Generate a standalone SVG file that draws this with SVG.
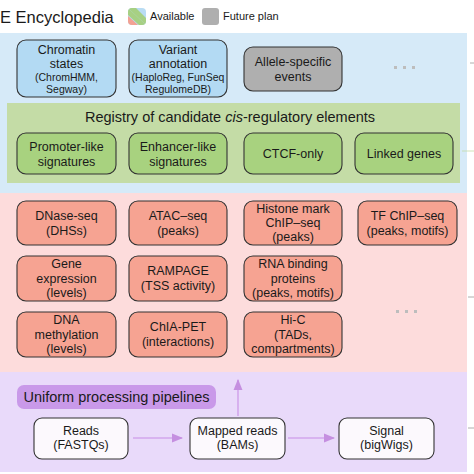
<svg xmlns="http://www.w3.org/2000/svg" width="474" height="474" viewBox="0 0 474 474">
<defs>
<style>
text{font-family:"Liberation Sans",Arial,sans-serif;fill:#1a1a1a;text-anchor:middle}
.n{stroke:#333;stroke-width:1.1}
.b{fill:#b3daf3}.g{fill:#a8d27f}.r{fill:#f6a392}.w{fill:#fcf9fd}.gr{fill:#afafaf}
.t{font-size:12.5px}.s{font-size:10.5px}
.dot{fill:#bdbdbd}
.tick{stroke:#999;stroke-width:0.8}
</style>
<marker id="ah" viewBox="0 0 10 10" refX="9" refY="5" markerWidth="7" markerHeight="7" orient="auto"><path d="M0,1 L10,5 L0,9 z" fill="#c58fe0"/></marker>
<clipPath id="ic"><rect x="128" y="8" width="18" height="17" rx="4"/></clipPath>
</defs>
<rect width="474" height="474" fill="#fff"/>
<!-- header -->
<text x="0" y="23" style="font-size:16.5px;text-anchor:start">E Encyclopedia</text>
<g id="legend">
<g clip-path="url(#ic)">
<rect x="128" y="8" width="18" height="17" fill="#b9dcf3"/>
<path d="M128,8 L136,8 L146,18 L146,25 Z" fill="#a7d083"/>
<path d="M128,8 L146,25 L139,25 L128,15 Z" fill="#a7d083"/>
<path d="M128,16 L138,25 L128,25 Z" fill="#f3a193"/>
</g>
<text x="150" y="20" style="text-anchor:start;font-size:11px">Available</text>
<rect x="202" y="8" width="17" height="17" rx="3" fill="#afafaf"/>
<text x="223" y="20" style="text-anchor:start;font-size:11px">Future plan</text>
</g>
<!-- panels -->
<rect x="0" y="33" width="467" height="160" fill="#d6eaf8"/>
<rect x="7" y="103" width="453" height="80" fill="#c4dca6"/>
<rect x="0" y="193" width="467" height="179" fill="#fddcdc"/>
<rect x="0" y="372" width="467" height="100" fill="#e9dafa"/>
<line class="tick" x1="470" y1="63" x2="474" y2="63"/>
<line class="tick" x1="462" y1="151" x2="474" y2="151" style="stroke:#c4dca6"/>
<line class="tick" x1="468" y1="297" x2="474" y2="297"/>
<line class="tick" x1="468" y1="428" x2="474" y2="428"/>
<!-- dots -->
<g class="dot"><rect x="394" y="66" width="3" height="3"/><rect x="403" y="66" width="3" height="3"/><rect x="412" y="66" width="3" height="3"/>
<rect x="396" y="310" width="3" height="3"/><rect x="405" y="310" width="3" height="3"/><rect x="414" y="310" width="3" height="3"/></g>
<!-- blue -->
<g id="chromatin"><rect class="n b" x="17" y="40" width="99" height="57" rx="9"/><text x="66.5" y="54" class="t">Chromatin</text><text x="66.5" y="68" class="t">states</text><text x="66.5" y="81" class="s">(ChromHMM,</text><text x="66.5" y="93" class="s">Segway)</text></g>
<g id="variant"><rect class="n b" x="129" y="40" width="98" height="57" rx="9"/><text x="178" y="54" class="t">Variant</text><text x="178" y="68" class="t">annotation</text><text x="178" y="81" class="s">(HaploReg, FunSeq</text><text x="178" y="93" class="s">RegulomeDB)</text></g>
<g id="allele"><rect class="n gr" x="244" y="47" width="98" height="44" rx="9"/><text x="293" y="66" class="t">Allele-specific</text><text x="293" y="81" class="t">events</text></g>
<!-- green -->
<text x="230" y="122" style="font-size:14.5px">Registry of candidate <tspan font-style="italic">cis</tspan>-regulatory elements</text>
<g id="promoter"><rect class="n g" x="17" y="133" width="99" height="41" rx="9"/><text x="66.5" y="151" class="t">Promoter-like</text><text x="66.5" y="166" class="t">signatures</text></g>
<g id="enhancer"><rect class="n g" x="129" y="133" width="98" height="41" rx="9"/><text x="178" y="151" class="t">Enhancer-like</text><text x="178" y="166" class="t">signatures</text></g>
<g id="ctcf"><rect class="n g" x="244" y="133" width="98" height="41" rx="9"/><text x="293" y="158" class="t">CTCF-only</text></g>
<g id="linked"><rect class="n g" x="355" y="133" width="98" height="41" rx="9"/><text x="404" y="158" class="t">Linked genes</text></g>
<!-- red -->
<g id="dnase"><rect class="n r" x="17" y="201" width="99" height="44" rx="9"/><text x="66.5" y="220" class="t">DNase-seq</text><text x="66.5" y="235" class="t">(DHSs)</text></g>
<g id="atac"><rect class="n r" x="129" y="201" width="98" height="44" rx="9"/><text x="178" y="220" class="t">ATAC–seq</text><text x="178" y="235" class="t">(peaks)</text></g>
<g id="histone"><rect class="n r" x="244" y="201" width="98" height="44" rx="9"/><text x="293" y="213" class="t">Histone mark</text><text x="293" y="227" class="t">ChIP–seq</text><text x="293" y="241" class="t">(peaks)</text></g>
<g id="tf"><rect class="n r" x="358" y="201" width="99" height="44" rx="9"/><text x="407.5" y="220" class="t">TF ChIP–seq</text><text x="407.5" y="235" class="t">(peaks, motifs)</text></g>
<g id="gene"><rect class="n r" x="17" y="256" width="99" height="45" rx="9"/><text x="66.5" y="268" class="t">Gene</text><text x="66.5" y="283" class="t">expression</text><text x="66.5" y="297" class="t">(levels)</text></g>
<g id="rampage"><rect class="n r" x="129" y="256" width="98" height="45" rx="9"/><text x="178" y="275" class="t">RAMPAGE</text><text x="178" y="290" class="t">(TSS activity)</text></g>
<g id="rna"><rect class="n r" x="244" y="256" width="98" height="45" rx="9"/><text x="293" y="268" class="t">RNA binding</text><text x="293" y="283" class="t">proteins</text><text x="293" y="297" class="t">(peaks, motifs)</text></g>
<g id="dna"><rect class="n r" x="17" y="312" width="99" height="45" rx="9"/><text x="66.5" y="324" class="t">DNA</text><text x="66.5" y="339" class="t">methylation</text><text x="66.5" y="353" class="t">(levels)</text></g>
<g id="chiapet"><rect class="n r" x="129" y="312" width="98" height="45" rx="9"/><text x="178" y="331" class="t">ChIA-PET</text><text x="178" y="346" class="t">(interactions)</text></g>
<g id="hic"><rect class="n r" x="244" y="312" width="98" height="45" rx="9"/><text x="293" y="324" class="t">Hi-C</text><text x="293" y="339" class="t">(TADs,</text><text x="293" y="353" class="t">compartments)</text></g>
<!-- purple -->
<g id="uniform"><rect x="17" y="385" width="199" height="24" rx="7" fill="#c999e9"/><text x="116.5" y="402" style="font-size:14.5px">Uniform processing pipelines</text></g>
<g id="reads"><rect class="n w" x="34" y="418" width="94" height="41" rx="8"/><text x="81" y="435" class="t">Reads</text><text x="81" y="449" class="t">(FASTQs)</text></g>
<g id="mapped"><rect class="n w" x="190" y="418" width="95" height="41" rx="8"/><text x="237.5" y="435" class="t">Mapped reads</text><text x="237.5" y="449" class="t">(BAMs)</text></g>
<g id="signal"><rect class="n w" x="339" y="418" width="95" height="41" rx="8"/><text x="386.5" y="435" class="t">Signal</text><text x="386.5" y="449" class="t">(bigWigs)</text></g>
<g id="connectors" stroke="#d2a6ec" stroke-width="1.6" fill="none">
<line x1="133" y1="438" x2="182" y2="438" marker-end="url(#ah)"/>
<line x1="288" y1="438" x2="334" y2="438" marker-end="url(#ah)"/>
<line x1="238" y1="416" x2="238" y2="380" marker-end="url(#ah)"/>
</g>
</svg>
